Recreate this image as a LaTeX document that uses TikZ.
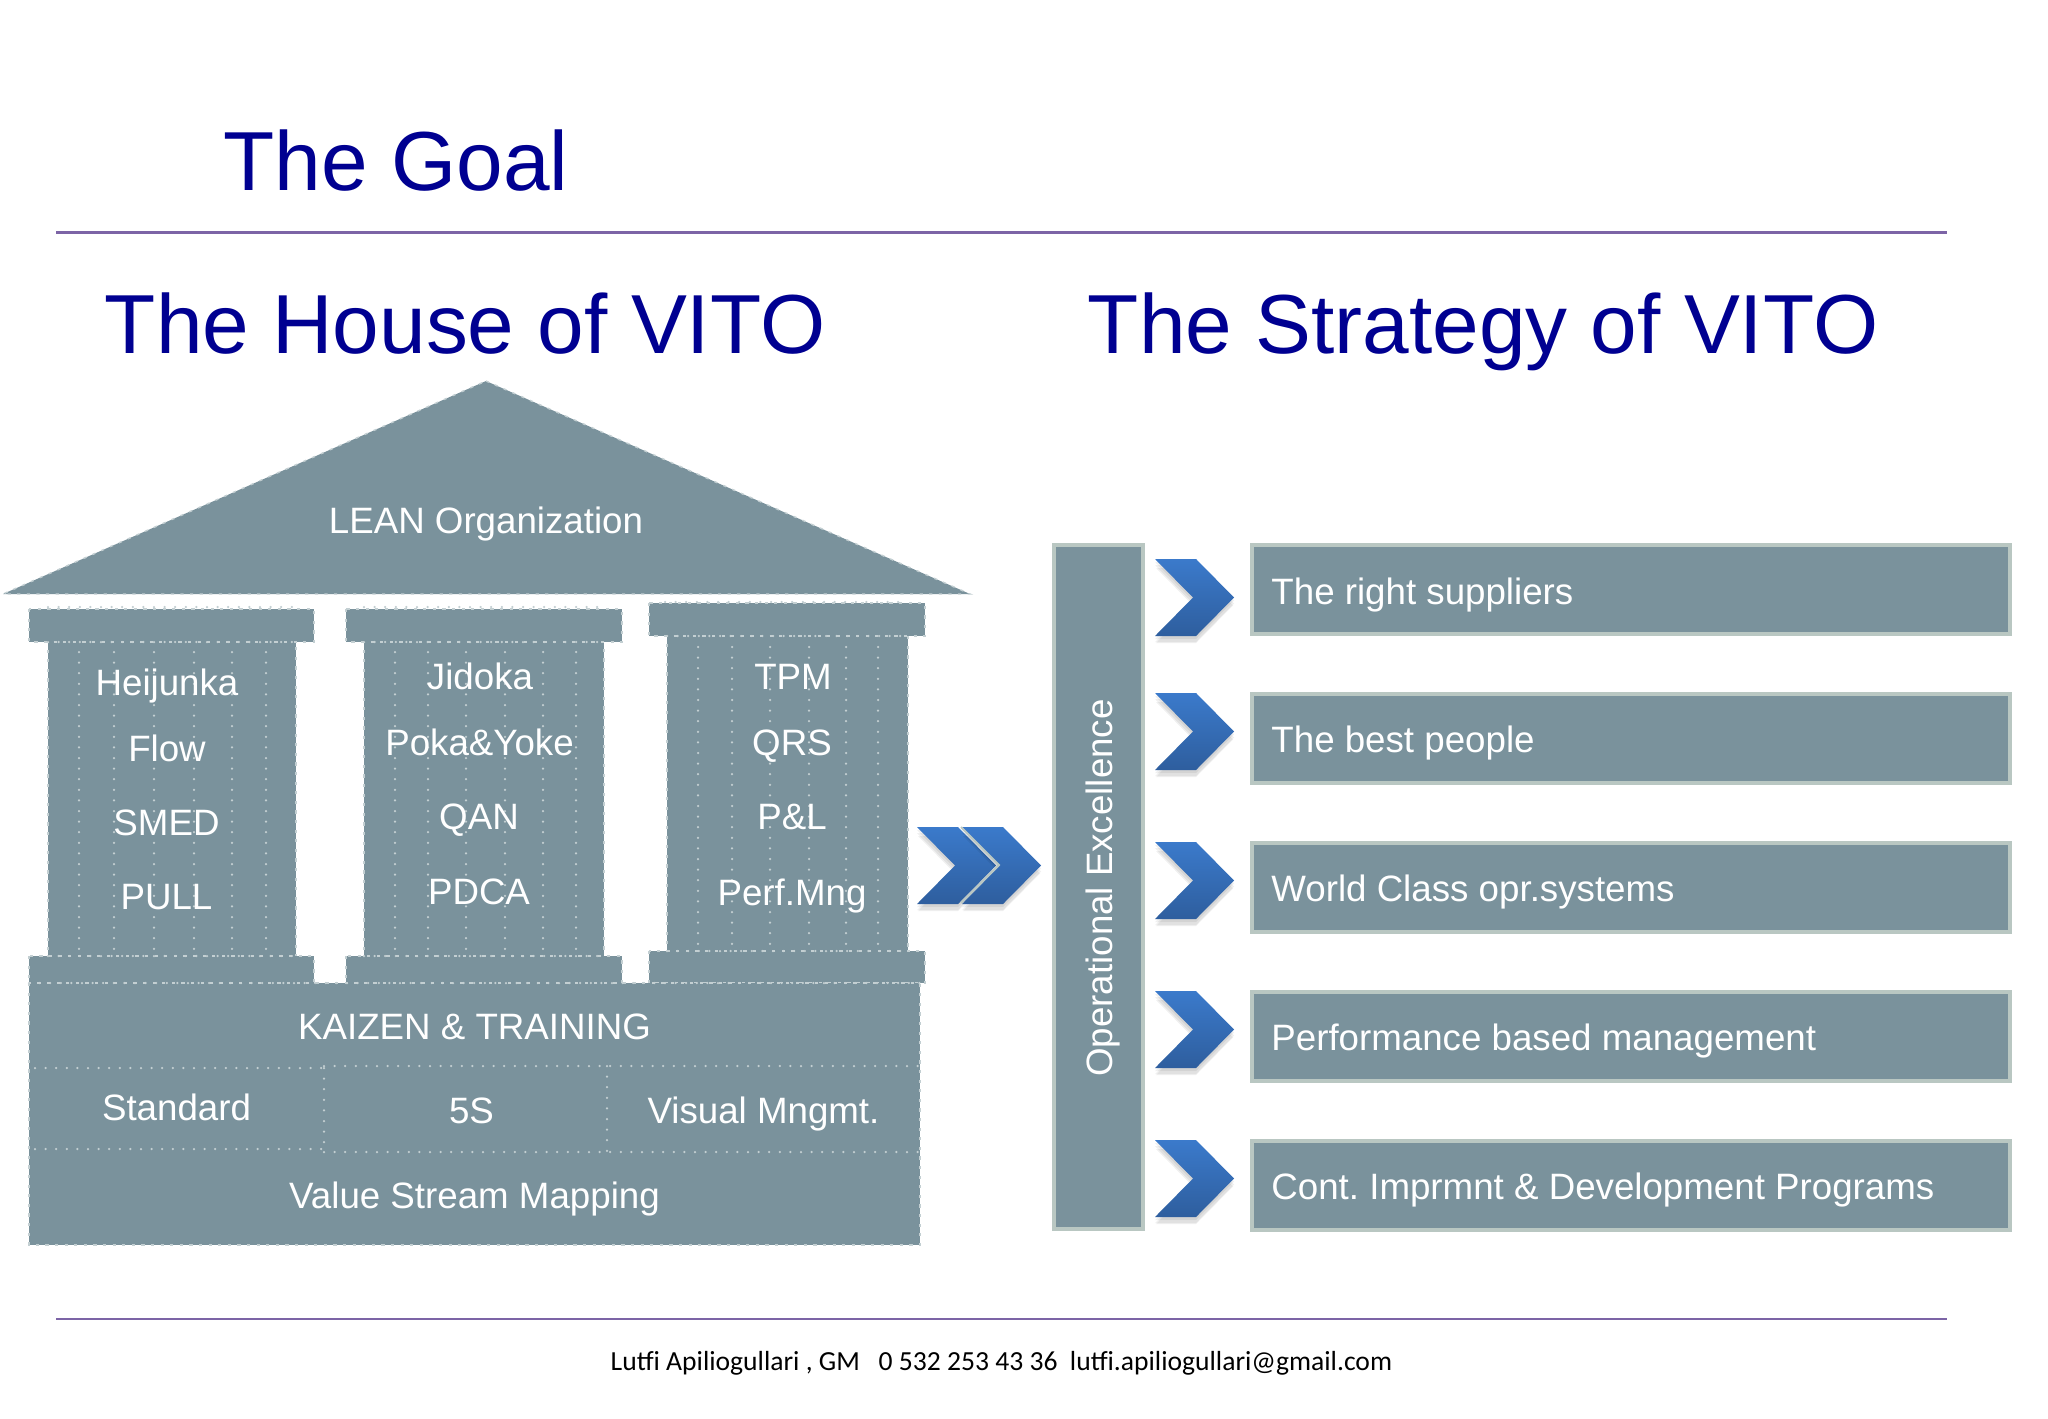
\documentclass[tikz,border=0pt]{standalone}
\usepackage{fontspec}
\setmainfont{Liberation Sans}
\newfontfamily\footfont{Carlito}
\usetikzlibrary{calc}
\definecolor{slate}{HTML}{7A929C}
\definecolor{edgelight}{HTML}{B9C7C2}
\definecolor{dotlight}{HTML}{C3CFD2}
\definecolor{titleblue}{HTML}{000091}
\definecolor{rulepurple}{HTML}{7C64A6}
\definecolor{chevtop}{HTML}{3B7ACB}
\definecolor{chevbot}{HTML}{2E5E9E}
\tikzset{
 x=0.5pt,y=-0.5pt,
 titletext/.style={anchor=base,inner sep=0,font=\fontsize{41.9}{48}\selectfont,text=titleblue},
 lbl/.style={anchor=base,inner sep=0,font=\fontsize{18.35}{22}\selectfont,text=white},
 lblleft/.style={lbl,anchor=base west},
 housepart/.style={fill=slate,draw=dotlight,line width=0.7pt,dash pattern=on 1.6pt off 3.2pt},
 dotline/.style={draw=dotlight,line width=1.25pt,line cap=round,dash pattern=on 0pt off 5.3pt},
 rule/.style={draw=rulepurple,line width=1.4pt},
 framebox/.style={fill=slate,draw=edgelight,line width=2pt,inner sep=0,minimum height=44.5pt,minimum width=379pt,anchor=north west},
 chevfill/.style={top color=chevtop,bottom color=chevbot,draw=none},
 chevshade/.style={fill=black,fill opacity=0.06,draw=none},
}
\newcommand{\chev}[2]{%
 \fill[chevshade] (#1,#2+3) -- ++(41,0) -- ++(38,38.5) -- ++(-38,38.5) -- ++(-41,0) -- ++(38,-38.5) -- cycle;
 \fill[chevshade] (#1,#2+6) -- ++(41,0) -- ++(38,38.5) -- ++(-38,38.5) -- ++(-41,0) -- ++(38,-38.5) -- cycle;
 \fill[chevshade] (#1+1,#2+9) -- ++(40,0) -- ++(37,37.5) -- ++(-37,37.5) -- ++(-40,0) -- ++(37,-37.5) -- cycle;
 \path[chevfill] (#1,#2) -- ++(41,0) -- ++(38,38.5) -- ++(-38,38.5) -- ++(-41,0) -- ++(38,-38.5) -- cycle;
}
\begin{document}
\frenchspacing
\begin{tikzpicture}
\useasboundingbox (0,0) rectangle (2048,1418);
\fill[white] (0,0) rectangle (2048,1418);
% rules
\coordinate (r1a) at (56,232.5); \coordinate (r1b) at (1947,232.5);
\coordinate (r2a) at (56,1319); \coordinate (r2b) at (1947,1319);
\draw[rule] (r1a) -- (r1b);
\draw[rule] (r2a) -- (r2b);
% titles
\node[titletext] (goal) at (396,190) {The Goal};
\node[titletext] (house) at (465,353) {The House of VITO};
\node[titletext] (strategy) at (1483,353) {The Strategy of VITO};
% roof
\path[housepart] (486,381) -- (970,594) -- (3,594) -- cycle;
\node[lbl] (lean) at (486,533) {LEAN Organization};
% columns
\path[housepart] (48,640) rectangle (296,958);
\path[housepart] (29,609) rectangle (314,642);
\path[housepart] (29,956) rectangle (314,985);
\path[housepart] (364,640) rectangle (604,958);
\path[housepart] (346,609) rectangle (622,642);
\path[housepart] (346,956) rectangle (622,985);
\path[housepart] (667,634) rectangle (908,953);
\path[housepart] (649,603) rectangle (925,636);
\path[housepart] (649,951) rectangle (925,983);
% base
\path[housepart] (29,983) rectangle (920,1245);
% dotted verticals in the columns
\foreach \x in {79,114,154,194,232,266,395,428,466,505,543,576}{
 \draw[dotline] (\x,652) -- (\x,950);
}
\foreach \x in {698,732,770,809,846,878}{
 \draw[dotline] (\x,647) -- (\x,945);
}
% dotted seams
\draw[dotline] (48,607) -- (296,607);
\draw[dotline] (364,607) -- (604,607);
\draw[dotline] (665,602) -- (907,602);
\draw[dotline] (29,983) -- (920,983);
\draw[dotline] (35,1068) -- (324,1068);
\draw[dotline] (324,1066) -- (920,1066);
\draw[dotline] (35,1149) -- (324,1149);
\draw[dotline] (324,1152) -- (920,1152);
\draw[dotline] (324,1068) -- (324,1152);
\draw[dotline] (607,1066) -- (607,1152);
\draw[dotline] (48,642) -- (296,642);
\draw[dotline] (364,642) -- (604,642);
\draw[dotline] (667,636) -- (908,636);
\draw[dotline] (48,956) -- (296,956);
\draw[dotline] (364,956) -- (604,956);
\draw[dotline] (667,951) -- (908,951);
% column labels
\node[lbl] (a1) at (167,695) {Heijunka};
\node[lbl] (a2) at (167,761) {Flow};
\node[lbl] (a3) at (166.5,835) {SMED};
\node[lbl] (a4) at (166.5,909) {PULL};
\node[lbl] (b1) at (480,689) {Jidoka};
\node[lbl] (b2) at (479.5,755) {Poka\&Yoke};
\node[lbl] (b3) at (479,829) {QAN};
\node[lbl] (b4) at (479,904) {PDCA};
\node[lbl] (c1) at (793,689) {TPM};
\node[lbl] (c2) at (792,755) {QRS};
\node[lbl] (c3) at (792,829) {P\&L};
\node[lbl] (c4) at (792,905) {Perf.Mng};
\node[lbl] (k) at (474.5,1039) {KAIZEN \& TRAINING};
\node[lbl] (s1) at (176.5,1120) {Standard};
\node[lbl] (s2) at (471.5,1123) {5S};
\node[lbl] (s3) at (763.5,1123) {Visual Mngmt.};
\node[lbl] (v) at (474.5,1208) {Value Stream Mapping};
% double chevron
\chev{917}{827}
\chev{962}{827}
\draw[edgelight,line width=1pt] (961,827) -- (999,865) -- (961,903);
% operational bar
\node[fill=slate,draw=edgelight,line width=2pt,inner sep=0,anchor=north west,minimum width=44.5pt,minimum height=342pt] (bar) at (1052,543) {};
\node[lbl,rotate=90,anchor=base] (opex) at (1112,888) {Operational Excellence};
% boxes
\node[framebox] (box1) at (1250,543) {};
\node[framebox] (box2) at (1250,692) {};
\node[framebox] (box3) at (1250,841) {};
\node[framebox] (box4) at (1250,990) {};
\node[framebox] (box5) at (1250,1139) {};
\node[lblleft] (t1) at (1271,604) {The right suppliers};
\node[lblleft] (t2) at (1271,752) {The best people};
\node[lblleft] (t3) at (1271,901) {World Class opr.systems};
\node[lblleft] (t4) at (1271,1050) {Performance based management};
\node[lblleft] (t5) at (1271,1199) {Cont. Imprmnt \& Development Programs};
% chevrons
\chev{1155}{559}
\chev{1155}{693}
\chev{1155}{842}
\chev{1155}{991}
\chev{1155}{1140}
% footer
\node[anchor=base,inner sep=0,font=\footfont\fontsize{13.8}{16}\selectfont] (foot) at (1001.5,1370) {Lutfi Apiliogullari , GM\ \ \ 0 532 253 43 36\ \ lutfi.apiliogullari@gmail.com};
\end{tikzpicture}
\end{document}
